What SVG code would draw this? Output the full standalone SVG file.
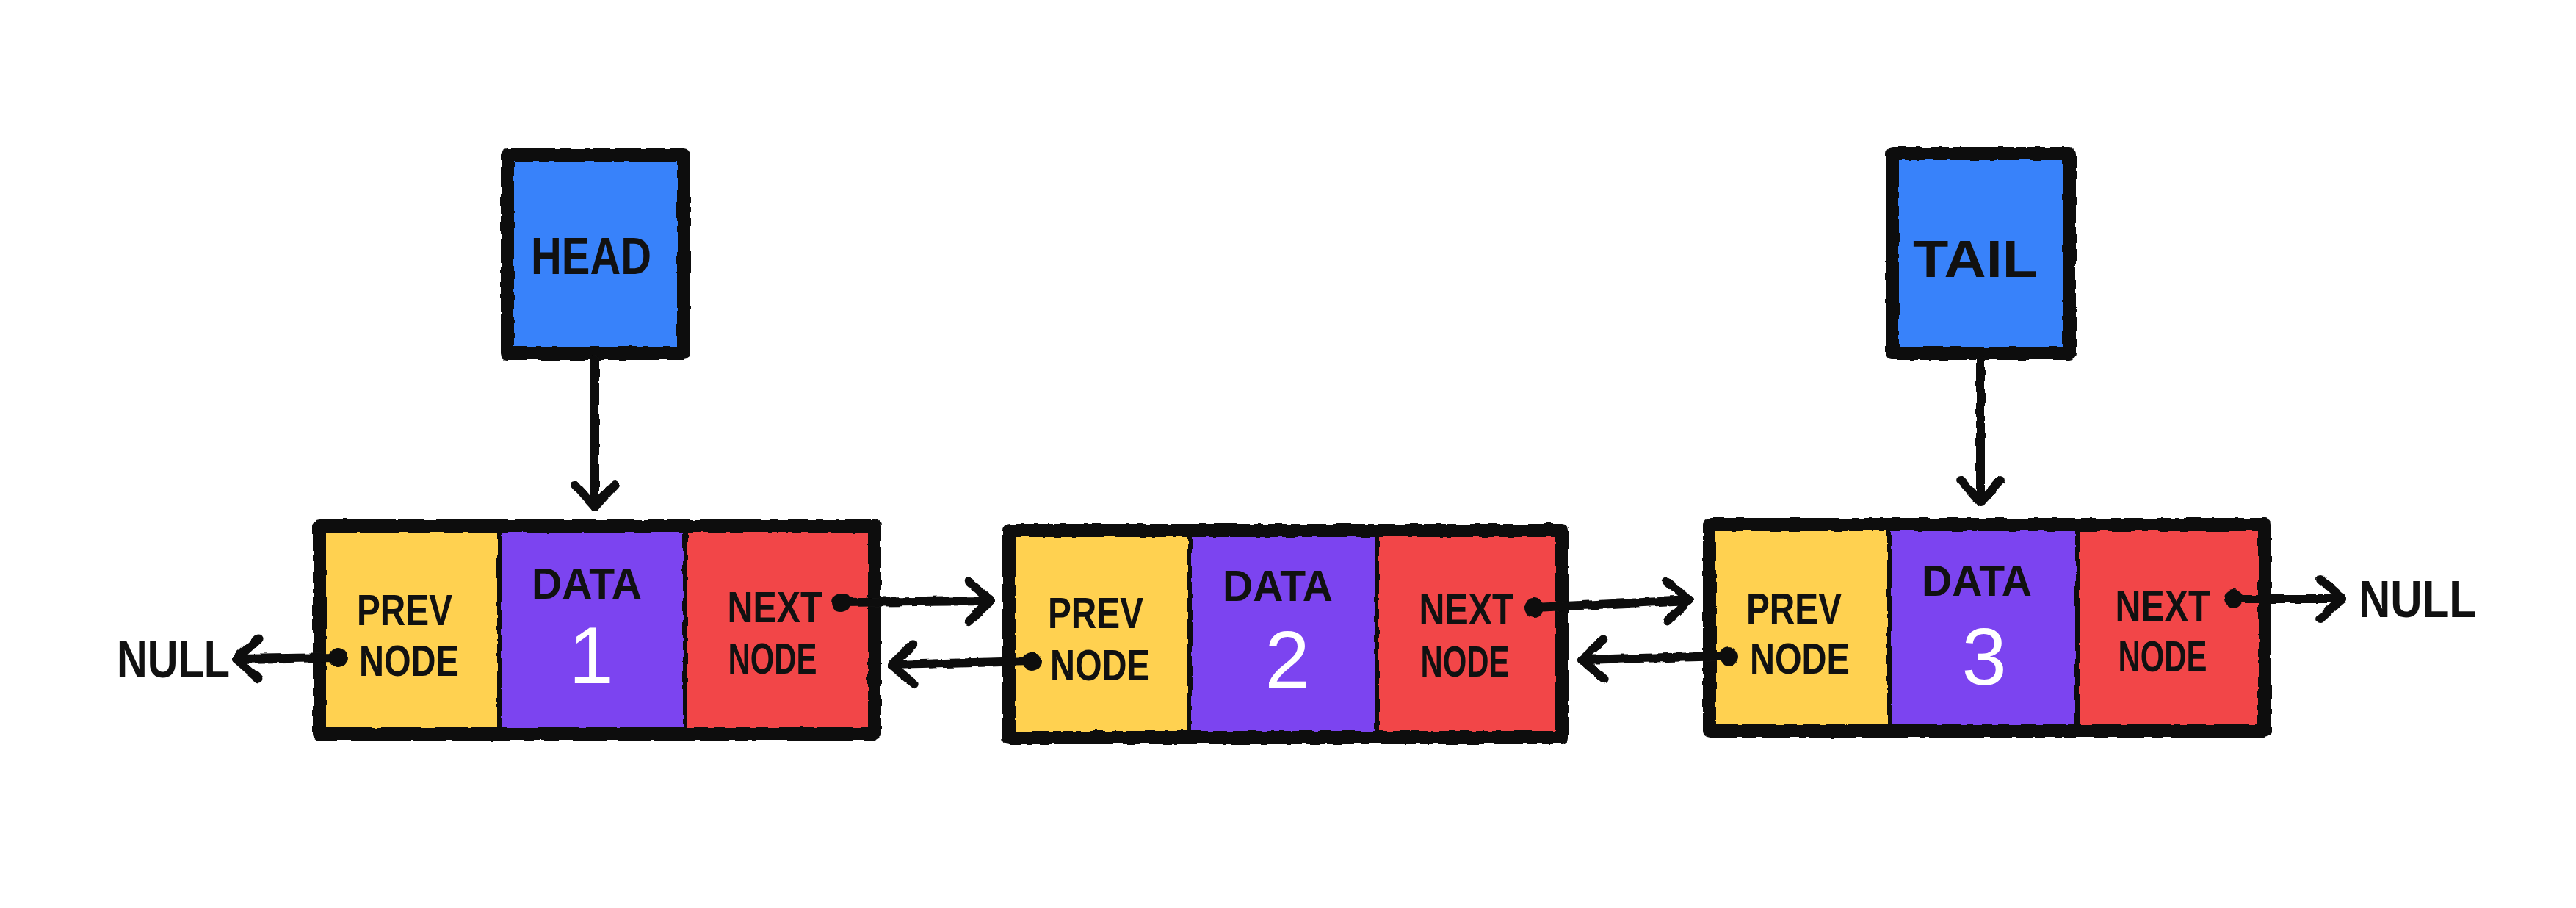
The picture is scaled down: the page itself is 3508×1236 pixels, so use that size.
<svg xmlns="http://www.w3.org/2000/svg" width="3508" height="1236" viewBox="0 0 3508 1236">
<style>
.border{fill:none;stroke:#111;stroke-width:18;stroke-linejoin:round}
.div{stroke:#111;stroke-width:6}
.prev{fill:#FFD150}
.data{fill:#7C44F0}
.next{fill:#F24648}
.ptr{fill:#3882FA}
.lbl{font-family:"Liberation Sans",Arial,sans-serif;font-weight:bold;font-size:70px;fill:#111;text-anchor:middle}
.cell{font-family:"Liberation Sans",Arial,sans-serif;font-weight:bold;font-size:60px;fill:#111;text-anchor:middle}
.num{font-family:"Liberation Sans",Arial,sans-serif;font-weight:normal;font-size:110px;fill:#fff;text-anchor:middle}
.conn{fill:none;stroke:#111;stroke-width:12;stroke-linecap:round}
.dot{fill:#111}
</style>
<defs>
<filter id="rough" filterUnits="userSpaceOnUse" x="0" y="0" width="3508" height="1236">
<feTurbulence type="fractalNoise" baseFrequency="0.06" numOctaves="2" seed="3" result="n"/>
<feDisplacementMap in="SourceGraphic" in2="n" scale="5" xChannelSelector="R" yChannelSelector="G"/>
</filter>
<marker id="arrow" markerUnits="userSpaceOnUse" viewBox="-40 -40 50 80" markerWidth="50" markerHeight="80" refX="0" refY="0" orient="auto" overflow="visible">
<path d="M-30,-27 L0,0 L-30,27" fill="none" stroke="#111" stroke-width="12" stroke-linecap="round" stroke-linejoin="round"/>
</marker>
</defs>
<rect width="3508" height="1236" fill="#fff"/>

<g id="head">
<rect class="ptr" x="691" y="211" width="240" height="270"/>
<rect class="border" x="691" y="211" width="240" height="270" filter="url(#rough)"/>
<text class="lbl" x="805" y="373" textLength="164" lengthAdjust="spacingAndGlyphs">HEAD</text>
</g>

<g id="tail">
<rect class="ptr" x="2577" y="209" width="241" height="272"/>
<rect class="border" x="2577" y="209" width="241" height="272" filter="url(#rough)"/>
<text class="lbl" x="2690" y="377" textLength="170" lengthAdjust="spacingAndGlyphs">TAIL</text>
</g>

<g id="node1">
<rect class="prev" x="435" y="716" width="245" height="283"/>
<rect class="data" x="680" y="716" width="253" height="283"/>
<rect class="next" x="933" y="716" width="258" height="283"/>
<g filter="url(#rough)">
<line class="div" x1="680" y1="716" x2="680" y2="999"/>
<line class="div" x1="933" y1="716" x2="933" y2="999"/>
<rect class="border" x="435" y="716" width="756" height="283"/>
</g>
<text class="cell" x="551" y="851" textLength="130" lengthAdjust="spacingAndGlyphs">PREV</text>
<text class="cell" x="557" y="920" textLength="136" lengthAdjust="spacingAndGlyphs">NODE</text>
<text class="cell" x="799" y="815" textLength="150" lengthAdjust="spacingAndGlyphs">DATA</text>
<text class="num" x="805" y="930">1</text>
<text class="cell" x="1055" y="847" textLength="129" lengthAdjust="spacingAndGlyphs">NEXT</text>
<text class="cell" x="1052" y="917" textLength="121" lengthAdjust="spacingAndGlyphs">NODE</text>
</g>

<g id="node2">
<rect class="prev" x="1374" y="722" width="246" height="282"/>
<rect class="data" x="1620" y="722" width="255" height="282"/>
<rect class="next" x="1875" y="722" width="252" height="282"/>
<g filter="url(#rough)">
<line class="div" x1="1620" y1="722" x2="1620" y2="1004"/>
<line class="div" x1="1875" y1="722" x2="1875" y2="1004"/>
<rect class="border" x="1374" y="722" width="753" height="282"/>
</g>
<text class="cell" x="1492" y="855" textLength="130" lengthAdjust="spacingAndGlyphs">PREV</text>
<text class="cell" x="1498" y="926" textLength="136" lengthAdjust="spacingAndGlyphs">NODE</text>
<text class="cell" x="1740" y="818" textLength="150" lengthAdjust="spacingAndGlyphs">DATA</text>
<text class="num" x="1753" y="936">2</text>
<text class="cell" x="1997" y="850" textLength="129" lengthAdjust="spacingAndGlyphs">NEXT</text>
<text class="cell" x="1995" y="921" textLength="121" lengthAdjust="spacingAndGlyphs">NODE</text>
</g>

<g id="node3">
<rect class="prev" x="2328" y="714" width="245" height="281"/>
<rect class="data" x="2573" y="714" width="256" height="281"/>
<rect class="next" x="2829" y="714" width="255" height="281"/>
<g filter="url(#rough)">
<line class="div" x1="2573" y1="714" x2="2573" y2="995"/>
<line class="div" x1="2829" y1="714" x2="2829" y2="995"/>
<rect class="border" x="2328" y="714" width="756" height="281"/>
</g>
<text class="cell" x="2443" y="849" textLength="130" lengthAdjust="spacingAndGlyphs">PREV</text>
<text class="cell" x="2451" y="917" textLength="136" lengthAdjust="spacingAndGlyphs">NODE</text>
<text class="cell" x="2692" y="811" textLength="150" lengthAdjust="spacingAndGlyphs">DATA</text>
<text class="num" x="2702" y="932">3</text>
<text class="cell" x="2945" y="845" textLength="129" lengthAdjust="spacingAndGlyphs">NEXT</text>
<text class="cell" x="2945" y="914" textLength="121" lengthAdjust="spacingAndGlyphs">NODE</text>
</g>

<g id="null-left">
<text class="lbl" x="236" y="922" textLength="154" lengthAdjust="spacingAndGlyphs">NULL</text>
</g>
<g id="null-right">
<text class="lbl" x="3292" y="840" textLength="160" lengthAdjust="spacingAndGlyphs">NULL</text>
</g>

<g id="connectors" filter="url(#rough)">
<path class="conn" d="M810,489 L810,690" marker-end="url(#arrow)"/>
<path class="conn" d="M2697,490 L2697,684" marker-end="url(#arrow)"/>
<circle class="dot" cx="1145" cy="820" r="13"/>
<path class="conn" d="M1145,820 L1349,818" marker-end="url(#arrow)"/>
<circle class="dot" cx="1405" cy="900" r="13"/>
<path class="conn" d="M1405,900 L1214,905" marker-end="url(#arrow)"/>
<circle class="dot" cx="2089" cy="827" r="13"/>
<path class="conn" d="M2089,827 L2300,817" marker-end="url(#arrow)"/>
<circle class="dot" cx="2354" cy="893" r="13"/>
<path class="conn" d="M2354,893 L2154,898" marker-end="url(#arrow)"/>
<circle class="dot" cx="3042" cy="815" r="13"/>
<path class="conn" d="M3042,815 L3190,815" marker-end="url(#arrow)"/>
<circle class="dot" cx="460" cy="895" r="13"/>
<path class="conn" d="M460,895 L322,897" marker-end="url(#arrow)"/>
</g>
</svg>
